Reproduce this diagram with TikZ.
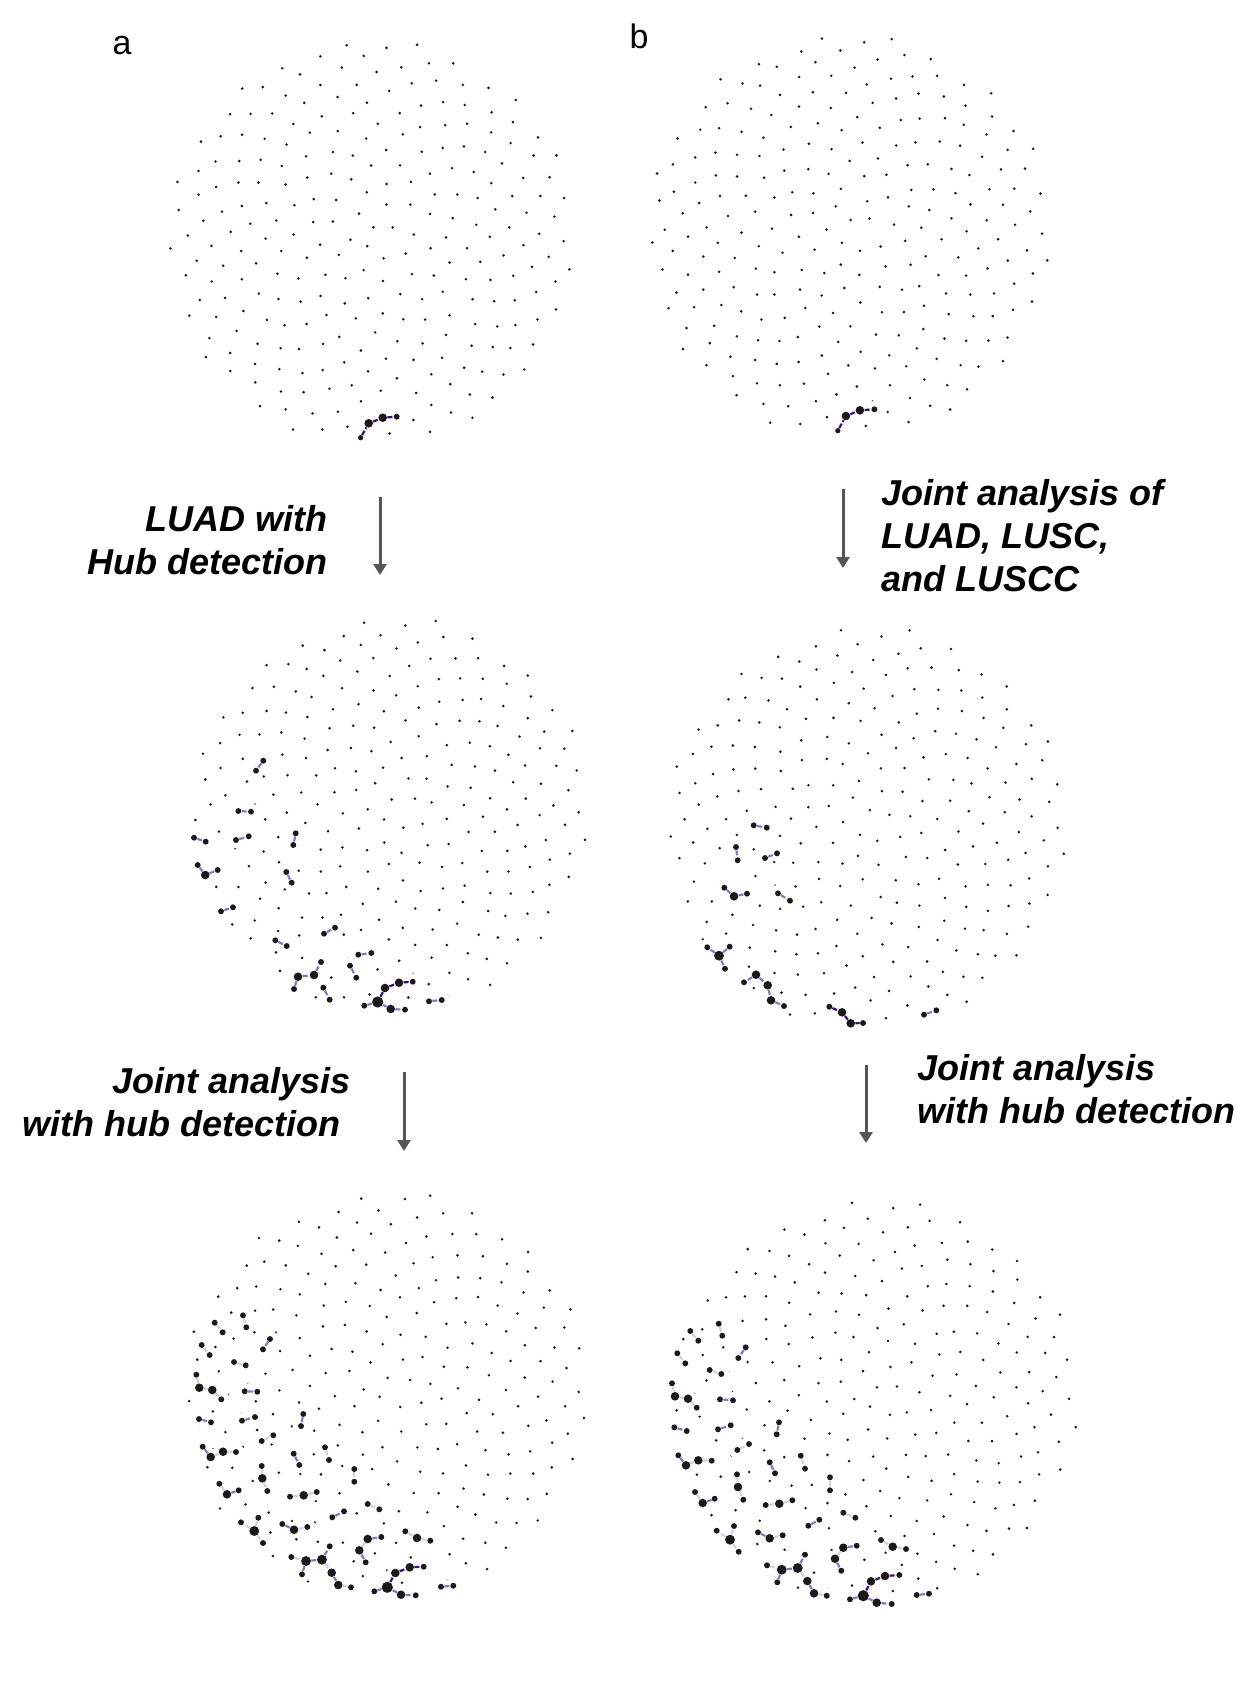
\documentclass[tikz,border=0pt]{standalone}
\usepackage{fontspec}
\setmainfont{Liberation Sans}
\usetikzlibrary{arrows.meta}
\definecolor{dotc}{HTML}{1A1A1A}
\definecolor{cdark}{HTML}{3A0C7C}
\definecolor{cmid}{HTML}{8478C4}
\definecolor{clight}{HTML}{D3CFE8}
\definecolor{flowgray}{HTML}{555555}
\tikzset{
  hubdot/.style={circle, fill=dotc, draw=none, inner sep=0pt},
  edark/.style={draw=cdark, line width=1.1pt, dash pattern=on 2.5pt off 1pt},
  emid/.style={draw=cmid, line width=1.1pt, dash pattern=on 2.5pt off 1pt},
  elight/.style={draw=clight, line width=1.1pt, dash pattern=on 2.5pt off 1pt},
  flow/.style={draw=flowgray, line width=1.5pt, -{Triangle[length=5.5pt,width=6.5pt]}},
  lab/.style={font=\bfseries\itshape\fontsize{18}{21.5}\selectfont, inner sep=0pt},
  panellab/.style={font=\fontsize{17}{20}\selectfont, inner sep=0pt, anchor=base}
}
\pgfmathsetseed{4711}
\newcommand\sunflower[4]{%
  \foreach \k in {1,...,#4}{%
    \pgfmathsetmacro\rr{#3*sqrt((\k-0.5)/#4)}%
    \pgfmathsetmacro\aa{360*mod(\k*0.381966,1)}%
    \pgfmathsetmacro\jx{2.2*rand}%
    \pgfmathsetmacro\jy{2.2*rand}%
    \fill[dotc] ({#1+\rr*cos(\aa)+\jx},{#2+\rr*sin(\aa)+\jy}) circle (0.72pt);%
  }}
\newcommand\hubset[1]{%
  \foreach \n/\x/\y/\s in {#1}{\fill[white] (\x,\y) circle (4.2pt);}%
  \foreach \n/\x/\y/\s in {#1}{\node[hubdot, minimum size=\s*0.66pt] (\n) at (\x,\y) {};}%
}
\newcommand\linkset[1]{\foreach \a/\b/\c in {#1}{\draw[\c] (\a) -- (\b);}}
\begin{document}
\begin{tikzpicture}[x=0.5pt, y=-0.5pt]
\fill[white] (0,0) rectangle (1258,1708);
\useasboundingbox (0,0) rectangle (1258,1708);

% dot clouds
\sunflower{372}{242}{204}{260}
\sunflower{849}{235}{203}{260}
\sunflower{391}{813}{198}{260}
\sunflower{867}{827}{202}{260}
\sunflower{387}{1393}{203}{260}
\sunflower{876}{1401}{203}{260}

% panel labels
\node[panellab] (la) at (122,54) {a};
\node[panellab] (lb) at (639,48) {b};

% ---------- hub nodes ----------
\hubset{p1a/360.6/437.7/4, p1b/368.7/423.3/6.5, p1c/382.7/417.7/6.5, p1d/396.7/416.7/4.5,
 q1a/837.8/430.7/4, q1b/845.9/416/6.5, q1c/859.9/410.3/6.5, q1d/874.4/409.3/4.5}

\hubset{p2a/263.3/760.7/4.5, p2b/256/770.7/4.5, p2c/238.3/811/4.5, p2d/251/811.7/4.5,
 p2e/194/837.7/4.5, p2f/205.7/841.7/4.5, p2g/236/840/4.5, p2h/248.7/836.3/4.5,
 p2i/295.7/833.3/4.5, p2j/293.3/845/4.5, p2k/197.7/865/4.5, p2l/205.3/875/6.5, p2m/217.7/870/4.5,
 p2n/286.3/872/4.5, p2o/291.7/882.7/4.5, p2p/221/911.3/4.5, p2q/233/907.3/4.5,
 p2r/324/933.7/4.5, p2s/335/927.7/4.5, p2t/275.3/940.3/4.5, p2u/286.7/946/4.5,
 p2v/358.3/954.7/4.5, p2w/371.3/953/4.5, p2x/298/976.7/6.5, p2y/314/975/6.5, p2z/321/962/4.5, p2A/294/989/4.5,
 p2B/323.3/987.7/4.5, p2C/329.7/999.7/4.5, p2D/350/965.7/4.5, p2E/356.3/977.7/4.5,
 p2F/377.7/1002/8.5, p2G/364.3/1005.7/4.5, p2H/390.7/1009/6.5, p2I/405/1009.7/4.5,
 p2J/385/988/6.5, p2K/399/982.7/6.5, p2L/412.7/981.7/4.5, p2M/429/1001.3/4.5, p2N/441.7/1000/4.5}

\hubset{q2a/753.7/825.3/4.5, q2b/766.7/827.7/4.5, q2c/736/847/4.5, q2d/737.7/860.3/4.5,
 q2e/765/858/4.5, q2f/777/853.3/4.5, q2g/724.3/887.7/4.5, q2h/734/896.3/6.5, q2i/747/893.7/4.5,
 q2j/778/893.3/4.5, q2k/790/900.7/4.5, q2l/707.3/947.3/4.5, q2m/719/955.7/7.5, q2n/729.7/946.7/4.5, q2o/725/968.7/4.5,
 q2p/756/974.7/6.5, q2q/744/982.3/4.5, q2r/767.7/985.3/6.5, q2s/771/1000.3/6.5, q2t/784/1006/4.5,
 q2u/829.3/1006.7/4.5, q2v/842/1012.3/6.5, q2w/850.7/1023.3/6.5, q2x/863/1023/4.5,
 q2y/924/1014.7/4.5, q2z/936.3/1010.3/4.5}

\hubset{p3a/243/1315.3/4.5, p3b/246.3/1327.3/4.5, p3c/214.7/1322.7/4.5, p3d/222.7/1332.3/4.5,
 p3e/270/1339/4.5, p3f/263/1349.3/4.5, p3g/201.7/1345/4.5, p3h/209.7/1355/4.5,
 p3i/234/1362/4.5, p3j/245.7/1365.3/4.5, p3k/196.3/1374.7/4.5, p3l/199.3/1387.7/6.5, p3m/212.3/1390/6.5, p3n/221.3/1399.3/4.5,
 p3o/244.7/1391.3/4.5, p3p/257.3/1391.7/4.5, p3q/199/1419/4.5, p3r/211/1422.3/4.5,
 p3s/242/1420.7/4.5, p3t/255/1417/4.5, p3u/303.3/1414/4.5, p3v/301/1426/4.5,
 p3w/261.7/1441/4.5, p3x/273.3/1435.3/4.5, p3y/202.7/1446.7/4.5, p3z/210.7/1457/6.5, p3A/223/1451.7/6.5, p3B/236/1452/4.5,
 p3C/293.7/1453.7/4.5, p3D/299.3/1465/4.5, p3E/325/1447.3/4.5, p3F/329/1460/4.5,
 p3G/261.7/1466/4.5, p3H/262.3/1478.3/6.5, p3I/267.3/1491/4.5, p3J/354.3/1469/4.5, p3K/354.3/1481.7/4.5,
 p3L/219.3/1483.7/4.5, p3M/227/1494.3/6.5, p3N/238.7/1490.3/4.5,
 p3O/290/1496.7/4.5, p3P/303.7/1495.3/6.5, p3Q/316.7/1492/4.5, p3R/367.7/1504/4.5, p3S/379.3/1509.3/4.5,
 p3T/332.3/1517.3/4.5, p3U/344/1511.3/4.5,
 p3V/254.3/1531/7.5, p3W/241/1522.3/4.5, p3X/258.3/1517.7/4.5, p3Y/263/1543/4.5,
 p3Z/282.3/1524/4.5, p3aa/294/1529.7/6.5, p3ab/307.3/1527/4.5,
 p3ac/405.3/1531.3/4.5, p3ad/417/1538/6.5, p3ae/430.3/1540.7/4.5,
 p3af/367.7/1539/6.5, p3ag/381.3/1537/4.5, p3ah/359.3/1550.3/6.5, p3ai/365.7/1562.3/4.5,
 p3aj/291.3/1557/4.5, p3ak/306/1561/7.5, p3al/322/1559.7/7.5, p3am/329.7/1546.3/4.5, p3an/302/1574.3/4.5,
 p3ao/331.7/1572.7/6.5, p3ap/338.3/1585/6.5, p3aq/351/1587.3/4.5,
 p3ar/387.3/1587.3/8.5, p3as/374.3/1591.3/4.5, p3at/401/1594.7/6.5, p3au/415.7/1595.3/4.5,
 p3av/395.3/1573/6.5, p3aw/409.7/1567.3/6.5, p3ax/423.7/1566.7/4.5, p3ay/441/1586.7/4.5, p3az/453.3/1585.7/4.5}

\hubset{q3a/718.7/1323.7/4.5, q3b/722.3/1335.7/4.5, q3c/690.3/1331/4.5, q3d/698.3/1340.7/4.5,
 q3e/745.7/1347.3/4.5, q3f/738.3/1358/4.5, q3g/677.3/1353.3/4.5, q3h/685.3/1363.3/4.5,
 q3i/709.7/1370/4.5, q3j/721.3/1374/4.5, q3k/672/1383.3/4.5, q3l/675/1396.3/6.5, q3m/688/1398.7/6.5, q3n/696.7/1407.7/4.5,
 q3o/720/1399.3/4.5, q3p/733/1400.3/4.5, q3q/674.3/1427.3/4.5, q3r/686.7/1431/4.5,
 q3s/718/1429.3/4.5, q3t/730.7/1425.3/4.5, q3u/779/1422.3/4.5, q3v/776.7/1434.3/4.5,
 q3w/737.3/1450/4.5, q3x/749/1444/4.5, q3y/678.3/1455.3/4.5, q3z/686/1465.3/6.5, q3A/698.3/1460.3/6.5, q3B/711.7/1460.7/4.5,
 q3C/769.7/1462.3/4.5, q3D/775/1473.3/4.5, q3E/800.7/1455.7/4.5, q3F/805/1468.7/4.5,
 q3G/737/1474.3/4.5, q3H/738/1487/6.5, q3I/743.3/1499.7/4.5, q3J/830/1477.3/4.5, q3K/830/1490.3/4.5,
 q3L/695/1492/4.5, q3M/702.7/1503/6.5, q3N/714.7/1498.7/4.5,
 q3O/765.7/1505/4.5, q3P/779.3/1503.7/6.5, q3Q/792.3/1500.3/4.5, q3R/843.3/1512.7/4.5, q3S/855.3/1517.7/4.5,
 q3T/808.3/1525.7/4.5, q3U/819.3/1519.7/4.5,
 q3V/730/1539.7/7.5, q3W/716.7/1530.7/4.5, q3X/734/1526/4.5, q3Y/738.7/1551.7/4.5,
 q3Z/758/1532.3/4.5, q3aa/769.7/1538.3/6.5, q3ab/782.7/1535.3/4.5,
 q3ac/881/1540/4.5, q3ad/892.7/1546.7/6.5, q3ae/906/1549/4.5,
 q3af/843.3/1547.7/6.5, q3ag/856.7/1545.7/4.5, q3ah/835/1558.7/6.5, q3ai/841.3/1570.7/4.5,
 q3aj/767/1565.3/4.5, q3ak/781.7/1569.7/7.5, q3al/797.7/1568/7.5, q3am/805/1554.7/4.5, q3an/777.3/1582.3/4.5,
 q3ao/807.3/1581/6.5, q3ap/814/1593.3/6.5, q3aq/826.7/1595.7/4.5,
 q3ar/863.3/1595.7/8.5, q3as/850/1599.3/4.5, q3at/876.7/1602.7/6.5, q3au/891.7/1604/4.5,
 q3av/871/1581.3/6.5, q3aw/885/1576/6.5, q3ax/899.3/1575/4.5, q3ay/916.7/1595/4.5, q3az/929/1593.7/4.5}

% ---------- edges ----------
\linkset{p1a/p1b/edark, p1b/p1c/edark, p1c/p1d/edark,
 q1a/q1b/edark, q1b/q1c/edark, q1c/q1d/edark}

\linkset{p2a/p2b/emid, p2c/p2d/emid, p2e/p2f/emid, p2g/p2h/emid, p2i/p2j/emid, p2k/p2l/emid, p2l/p2m/emid,
 p2n/p2o/emid, p2p/p2q/emid, p2r/p2s/emid, p2t/p2u/emid, p2v/p2w/emid, p2x/p2y/emid, p2y/p2z/emid, p2x/p2A/emid,
 p2B/p2C/emid, p2D/p2E/emid, p2F/p2G/emid, p2F/p2H/emid, p2H/p2I/emid,
 p2F/p2J/edark, p2J/p2K/edark, p2K/p2L/edark, p2M/p2N/emid}

\linkset{q2a/q2b/emid, q2c/q2d/emid, q2e/q2f/emid, q2g/q2h/emid, q2h/q2i/emid, q2j/q2k/emid,
 q2m/q2l/emid, q2m/q2n/emid, q2m/q2o/emid, q2p/q2q/emid, q2p/q2r/emid, q2r/q2s/emid, q2s/q2t/emid,
 q2u/q2v/edark, q2v/q2w/edark, q2w/q2x/edark, q2y/q2z/emid}

\linkset{p3a/p3b/elight, p3c/p3d/elight, p3e/p3f/emid, p3g/p3h/elight, p3i/p3j/elight,
 p3k/p3l/elight, p3l/p3m/elight, p3m/p3n/elight, p3o/p3p/emid, p3q/p3r/emid, p3s/p3t/emid, p3u/p3v/emid,
 p3w/p3x/elight, p3y/p3z/emid, p3z/p3A/elight, p3A/p3B/elight, p3C/p3D/emid, p3E/p3F/elight,
 p3G/p3H/elight, p3H/p3I/elight, p3J/p3K/elight, p3L/p3M/elight, p3M/p3N/emid,
 p3O/p3P/elight, p3P/p3Q/elight, p3R/p3S/elight, p3T/p3U/emid,
 p3V/p3W/elight, p3V/p3X/elight, p3V/p3Y/elight, p3Z/p3aa/emid, p3aa/p3ab/elight,
 p3ac/p3ad/elight, p3ad/p3ae/elight, p3af/p3ag/emid, p3af/p3ah/elight, p3ah/p3ai/emid,
 p3aj/p3ak/elight, p3ak/p3al/emid, p3al/p3am/emid, p3ak/p3an/emid, p3al/p3ao/elight, p3ao/p3ap/emid, p3ap/p3aq/elight,
 p3ar/p3as/emid, p3ar/p3at/emid, p3at/p3au/emid, p3ar/p3av/edark, p3av/p3aw/edark, p3aw/p3ax/edark, p3ay/p3az/emid}

\linkset{q3a/q3b/elight, q3c/q3d/elight, q3e/q3f/emid, q3g/q3h/elight, q3i/q3j/elight,
 q3k/q3l/elight, q3l/q3m/elight, q3m/q3n/elight, q3o/q3p/emid, q3q/q3r/emid, q3s/q3t/emid, q3u/q3v/emid,
 q3w/q3x/elight, q3y/q3z/emid, q3z/q3A/elight, q3A/q3B/elight, q3C/q3D/emid, q3E/q3F/elight,
 q3G/q3H/elight, q3H/q3I/elight, q3J/q3K/elight, q3L/q3M/elight, q3M/q3N/emid,
 q3O/q3P/elight, q3P/q3Q/elight, q3R/q3S/elight, q3T/q3U/emid,
 q3V/q3W/elight, q3V/q3X/elight, q3V/q3Y/elight, q3Z/q3aa/emid, q3aa/q3ab/elight,
 q3ac/q3ad/elight, q3ad/q3ae/elight, q3af/q3ag/emid, q3af/q3ah/elight, q3ah/q3ai/emid,
 q3aj/q3ak/elight, q3ak/q3al/emid, q3al/q3am/emid, q3ak/q3an/emid, q3al/q3ao/elight, q3ao/q3ap/emid, q3ap/q3aq/elight,
 q3ar/q3as/emid, q3ar/q3at/emid, q3at/q3au/emid, q3ar/q3av/edark, q3av/q3aw/edark, q3aw/q3ax/edark, q3ay/q3az/emid}

% ---------- flow arrows ----------
\coordinate (f1s) at (380,497);  \coordinate (f1e) at (380,575);
\coordinate (f2s) at (843,489);  \coordinate (f2e) at (843,568);
\coordinate (f3s) at (404,1072); \coordinate (f3e) at (404,1151);
\coordinate (f4s) at (866,1065); \coordinate (f4e) at (866,1143);
\draw[flow] (f1s) -- (f1e);
\draw[flow] (f2s) -- (f2e);
\draw[flow] (f3s) -- (f3e);
\draw[flow] (f4s) -- (f4e);

% ---------- step labels ----------
\node[lab, anchor=east, align=right] (t1) at (328,540) {LUAD with\\Hub detection};
\node[lab, anchor=west, align=left] (t2) at (881,536) {Joint analysis of\\LUAD, LUSC,\\and LUSCC};
\node[lab, anchor=west, align=left] (t3) at (22,1102) {\hspace*{45pt}Joint analysis\\with hub detection};
\node[lab, anchor=west, align=left] (t4) at (917,1089) {Joint analysis\\with hub detection};
\end{tikzpicture}
\end{document}
